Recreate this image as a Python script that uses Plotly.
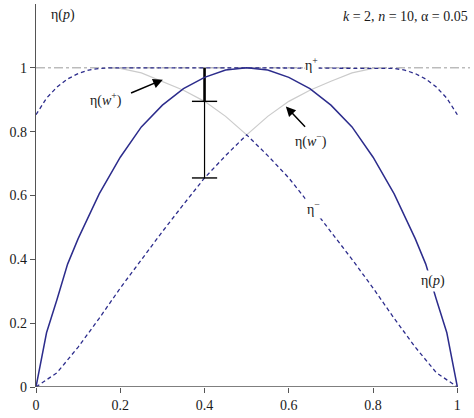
import plotly.graph_objects as go

# ---- data ----
p_eta = [0, 0.025, 0.05, 0.075, 0.1, 0.15, 0.2, 0.25, 0.3, 0.35, 0.4, 0.45, 0.5,
         0.55, 0.6, 0.65, 0.7, 0.75, 0.8, 0.85, 0.9, 0.925, 0.95, 0.975, 1.0]
eta_p = [0, 0.17, 0.275, 0.385, 0.465, 0.605, 0.72, 0.815, 0.883, 0.935, 0.970, 0.993, 1.0,
         0.993, 0.970, 0.935, 0.883, 0.815, 0.72, 0.605, 0.465, 0.385, 0.275, 0.17, 0]

p_plus = [0, 0.025, 0.05, 0.075, 0.1, 0.125, 0.15, 0.175, 0.5,
          0.825, 0.85, 0.875, 0.9, 0.925, 0.95, 0.975, 1.0]
eta_plus = [0.853, 0.905, 0.94, 0.965, 0.982, 0.993, 0.998, 1.0, 1.0,
            1.0, 0.998, 0.993, 0.982, 0.965, 0.94, 0.905, 0.853]

p_minus = [0, 0.05, 0.1, 0.15, 0.2, 0.25, 0.3, 0.35, 0.4, 0.45, 0.5,
           0.55, 0.6, 0.65, 0.7, 0.75, 0.8, 0.85, 0.9, 0.95, 1.0]
eta_minus = [0, 0.045, 0.125, 0.215, 0.31, 0.40, 0.487, 0.572, 0.655, 0.725, 0.79,
             0.725, 0.655, 0.572, 0.487, 0.40, 0.31, 0.215, 0.125, 0.045, 0]

p_wplus = [0.175, 0.2, 0.25, 0.3, 0.35, 0.4, 0.45, 0.5]
eta_wplus = [1.0, 0.998, 0.984, 0.958, 0.93, 0.895, 0.848, 0.79]
p_wminus = [0.5, 0.55, 0.6, 0.65, 0.7, 0.75, 0.8, 0.825]
eta_wminus = [0.79, 0.848, 0.895, 0.93, 0.958, 0.984, 0.998, 1.0]

err_p = 0.4
err_low, err_mid, err_high = 0.655, 0.895, 1.0

x_ticks = [0, 0.2, 0.4, 0.6, 0.8, 1]
x_ticktext = ["0", "0.2", "0.4", "0.6", "0.8", "1"]
y_ticks = [0, 0.2, 0.4, 0.6, 0.8, 1]
y_ticktext = ["0", "0.2", "0.4", "0.6", "0.8", "1"]

NAVY = "#2c2c8c"
GRAY = "#cbcbcb"
SERIF = "Liberation Serif"

fig = go.Figure()

fig.add_trace(go.Scatter(x=p_wplus, y=eta_wplus, mode="lines",
                         line=dict(color=GRAY, width=1.2), hoverinfo="skip"))
fig.add_trace(go.Scatter(x=p_wminus, y=eta_wminus, mode="lines",
                         line=dict(color=GRAY, width=1.2), hoverinfo="skip"))

fig.add_trace(go.Scatter(x=p_plus, y=eta_plus, mode="lines",
                         line=dict(color=NAVY, width=1.3, dash="4px,3px"), hoverinfo="skip"))
fig.add_trace(go.Scatter(x=p_minus, y=eta_minus, mode="lines",
                         line=dict(color=NAVY, width=1.3, dash="4px,3px"), hoverinfo="skip"))

fig.add_trace(go.Scatter(x=[err_p, err_p], y=[err_mid, err_high], mode="lines",
                         line=dict(color="black", width=2.6), hoverinfo="skip"))
fig.add_trace(go.Scatter(x=[err_p, err_p], y=[err_low, err_mid], mode="lines",
                         line=dict(color="black", width=1.2), hoverinfo="skip"))
fig.add_trace(go.Scatter(x=[err_p, err_p], y=[err_low, err_mid], mode="markers",
                         marker=dict(symbol="line-ew", size=18,
                                     line=dict(color="black", width=1.4)),
                         hoverinfo="skip"))

fig.add_trace(go.Scatter(x=p_eta, y=eta_p, mode="lines",
                         line=dict(color=NAVY, width=1.5), hoverinfo="skip"))

shapes = [
    dict(type="line", xref="paper", yref="y", x0=0, x1=1, y0=1, y1=1,
         line=dict(color="#9a9a9a", width=1, dash="dashdot"), layer="below"),
    dict(type="line", xref="x", yref="y", x0=0, x1=1, y0=0, y1=0,
         line=dict(color="#555555", width=1.4)),
]

font = dict(family=SERIF, size=14, color="#1a1a1a")
annotations = [
    dict(x=0.655, y=1.013, xref="x", yref="y", text="η<sup>+</sup>", showarrow=False,
         font=font, bgcolor="white", borderpad=0),
    dict(x=0.658, y=0.56, xref="x", yref="y", text="η<sup>−</sup>", showarrow=False,
         font=font, bgcolor="white", borderpad=1),
    dict(x=0.941, y=0.333, xref="x", yref="y", text="η(<i>p</i>)", showarrow=False,
         font=font, bgcolor="white", borderpad=2),
    dict(x=0.167, y=0.9, xref="x", yref="y", text="η(<i>w</i><sup>+</sup>)", showarrow=False,
         font=font),
    dict(x=0.652, y=0.772, xref="x", yref="y", text="η(<i>w</i><sup>−</sup>)", showarrow=False,
         font=font),
    dict(x=0.301, y=0.963, ax=0.222, ay=0.919, xref="x", yref="y", axref="x", ayref="y",
         text="", showarrow=True, arrowhead=2, arrowsize=1.3, arrowwidth=1.5, arrowcolor="black"),
    dict(x=0.593, y=0.879, ax=0.642, ay=0.811, xref="x", yref="y", axref="x", ayref="y",
         text="", showarrow=True, arrowhead=2, arrowsize=1.3, arrowwidth=1.5, arrowcolor="black"),
    dict(x=0.063, y=1.165, xref="x", yref="y", text="η(<i>p</i>)",
         showarrow=False, font=font),
    dict(x=0.941, y=-0.034, xref="x", yref="y", text="<i>p</i>", showarrow=False,
         font=font),
    dict(x=1.0, y=1.0, xref="paper", yref="paper", xanchor="right", yanchor="top",
         text="<i>k</i> = 2, <i>n</i> = 10, α = 0.05", showarrow=False, font=font, yshift=-3),
]

fig.update_layout(
    width=474, height=418,
    margin=dict(l=36, r=4, t=4, b=31),
    paper_bgcolor="white", plot_bgcolor="white",
    showlegend=False,
    font=dict(family=SERIF, size=14),
    shapes=shapes,
    annotations=annotations,
    xaxis=dict(range=[0, 1.03], tickvals=x_ticks, ticktext=x_ticktext,
               showgrid=False, zeroline=False, showline=False,
               ticks="outside", ticklen=5, tickwidth=1.2, tickcolor="#555555",
               tickfont=dict(family=SERIF, size=14, color="#1a1a1a")),
    yaxis=dict(range=[0, 1.2], tickvals=y_ticks, ticktext=y_ticktext,
               showgrid=False, zeroline=False, showline=True,
               linecolor="#555555", linewidth=1.4,
               ticks="outside", ticklen=5, tickwidth=1.2, tickcolor="#555555",
               tickfont=dict(family=SERIF, size=14, color="#1a1a1a")),
)

fig.write_html("out.html", config={"displayModeBar": False},
               post_script="document.body.style.margin='0';document.body.style.padding='0';")
